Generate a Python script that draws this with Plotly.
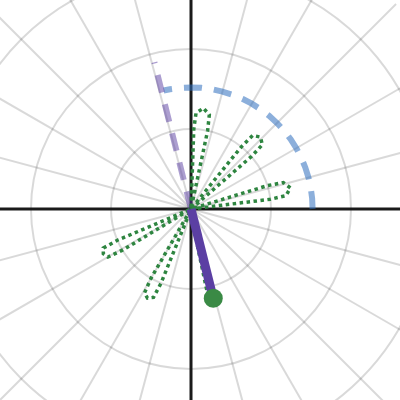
import plotly.graph_objects as go

# readings from the picture (r in grid units, theta in degrees)
rose_r = [1.03, 0.5, 0,
          0.5, 1.0, 1.2, 1.23, 1.2, 1.0, 0.5, 0,
          0.5, 1.0, 1.2, 1.24, 1.2, 1.0, 0.5, 0,
          0.5, 1.0, 1.2, 1.27, 1.2, 1.0, 0.5, 0,
          0.5, 1.0, 1.2, 1.25, 1.2, 1.0, 0.5, 0,
          0.5, 1.0, 1.2, 1.27, 1.2, 1.0, 0.5, 0]
rose_t = [281, 280, 0,
          203, 203, 204, 207, 210, 211, 211, 0,
          240, 240, 241, 244, 247, 248, 248, 0,
          7, 7, 8, 12, 16, 17, 17, 0,
          41, 41, 42, 46, 50, 51, 51, 0,
          78, 78, 79, 83, 87, 88, 88, 0]

arc_t = [0, 5, 10, 15, 20, 25, 30, 35, 40, 45, 50, 55, 60, 65, 70, 75, 80, 85, 90, 95, 100, 103]
arc_r = [1.52] * len(arc_t)

spoke_r = [0, 1.89]
spoke_t = [104, 104]

hand_r = [0, 1.15]
hand_t = [284, 284]

axis_r = [4, 0, 4]
axis_pairs = [[0, 0, 180], [90, 90, 270]]

fig = go.Figure()

for th in axis_pairs:
    fig.add_trace(go.Scatterpolar(r=axis_r, theta=th, mode='lines',
                                  line=dict(color='#1a1a1a', width=3), hoverinfo='skip'))

fig.add_trace(go.Scatterpolar(r=arc_r, theta=arc_t, mode='lines', opacity=0.55,
                              line=dict(color='#2f6fbf', width=6, dash='18px,12px')))
fig.add_trace(go.Scatterpolar(r=spoke_r, theta=spoke_t, mode='lines', opacity=0.5,
                              line=dict(color='#5b3fa3', width=6, dash='18px,12px')))
fig.add_trace(go.Scatterpolar(r=rose_r, theta=rose_t, mode='lines',
                              line=dict(color='#2e8540', width=3.5, dash='dot')))
fig.add_trace(go.Scatterpolar(r=hand_r, theta=hand_t, mode='lines',
                              line=dict(color='#5b3fa3', width=9)))
fig.add_trace(go.Scatterpolar(r=hand_r[1:], theta=hand_t[1:], mode='markers',
                              marker=dict(color='#3a8a45', size=19)))

fig.update_layout(
    width=580, height=580,
    margin=dict(l=0, r=0, t=0, b=0),
    showlegend=False,
    paper_bgcolor='white',
    polar=dict(
        domain=dict(x=[0, 1], y=[0, 1]),
        bgcolor='white',
        radialaxis=dict(range=[0, 3.625], dtick=1, showticklabels=False, ticks='',
                        showline=False, gridcolor='rgba(0,0,0,0.15)', gridwidth=2),
        angularaxis=dict(dtick=15, showticklabels=False, ticks='', showline=False,
                         gridcolor='rgba(0,0,0,0.15)', gridwidth=2),
    ),
)

post = ("var d=document.getElementById('{plot_id}');"
        "d.style.position='absolute';d.style.left='-99px';d.style.top='-81px';"
        "document.body.style.overflow='hidden';document.body.style.margin='0';")

fig.write_html("out.html", post_script=post)
